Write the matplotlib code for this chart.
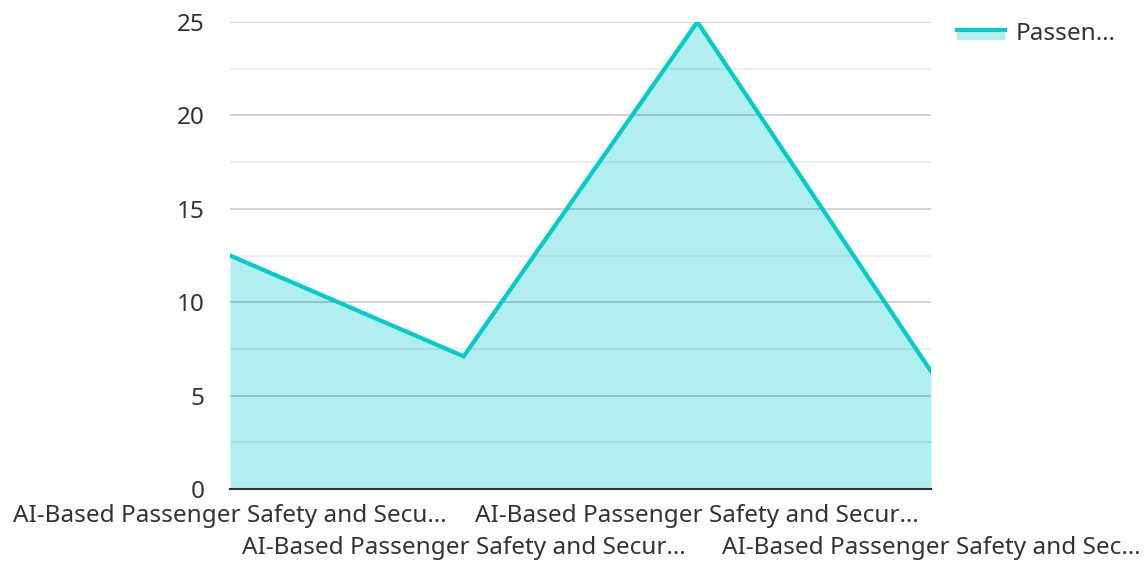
import matplotlib
matplotlib.use("Agg")
import matplotlib.pyplot as plt
from matplotlib.lines import Line2D
from matplotlib.patches import Rectangle
from matplotlib.legend_handler import HandlerBase

plt.rcParams['font.family'] = ['Noto Sans', 'DejaVu Sans']

categories = ["AI-Based Passenger Safety and Secu…",
              "AI-Based Passenger Safety and Secur…",
              "AI-Based Passenger Safety and Secur…",
              "AI-Based Passenger Safety and Sec…"]
values = [12.5, 7.1, 25, 6.3]
series_name = "Passen…"
yticks = [0, 5, 10, 15, 20, 25]

line_color = "#00CCCC"
fill_color = "#B2EEEE"
text_color = "#333333"
fs = 17.5

fig = plt.figure(figsize=(11.48, 5.61), dpi=100)
ax = fig.add_axes([230/1148, 1-489/561, (931-230)/1148, (489-22)/561])

x = list(range(len(values)))
ax.fill_between(x, values, 0, color=fill_color, lw=0, zorder=1)
ax.plot(x, values, color=line_color, lw=3, zorder=3, solid_joinstyle='miter')

ax.set_xlim(0, len(values)-1)
ax.set_ylim(0, 25)
ax.set_yticks(yticks)
ax.set_yticks([2.5, 7.5, 12.5, 17.5, 22.5], minor=True)
ax.grid(axis='y', which='major', color='#000000', alpha=0.2, lw=1.2, zorder=2)
ax.grid(axis='y', which='minor', color='#000000', alpha=0.08, lw=1.2, zorder=2)
for s in ['top', 'right', 'left']:
    ax.spines[s].set_visible(False)
ax.spines['bottom'].set_color('#333333')
ax.spines['bottom'].set_linewidth(1.5)
ax.spines['bottom'].set_zorder(4)
ax.tick_params(axis='y', which='both', length=0, pad=18.5, labelsize=fs, labelcolor=text_color)
ax.tick_params(axis='x', length=0, labelsize=fs, labelcolor=text_color)
ax.set_xticks(x)
ax.set_xticklabels(["" for _ in x])
for i, lab in enumerate(categories):
    off = 0 if i % 2 == 0 else 1
    ax.annotate(lab, xy=(i, 0), xycoords=('data', 'axes fraction'),
                xytext=(0, -10.5 - off*23.5), textcoords='offset points',
                ha='center', va='top', fontsize=fs, color=text_color, annotation_clip=False)


class AreaHandler(HandlerBase):
    def create_artists(self, legend, orig_handle, xdescent, ydescent, width, height, fontsize, trans):
        r = Rectangle((-xdescent, -ydescent), width, height*0.55, facecolor=fill_color, lw=0, transform=trans)
        l = Line2D([-xdescent, -xdescent+width], [-ydescent+height*0.55]*2, color=line_color, lw=3, transform=trans)
        return [r, l]

h = Rectangle((0, 0), 1, 1)
leg = fig.legend([h], [series_name], handler_map={Rectangle: AreaHandler()},
                 loc='upper left', bbox_to_anchor=(947/1148, 1-12/561), frameon=False,
                 borderaxespad=0, fontsize=fs, handlelength=2.0, handletextpad=0.42)
for t in leg.get_texts():
    t.set_color(text_color)

fig.savefig("out.png", dpi=100)
